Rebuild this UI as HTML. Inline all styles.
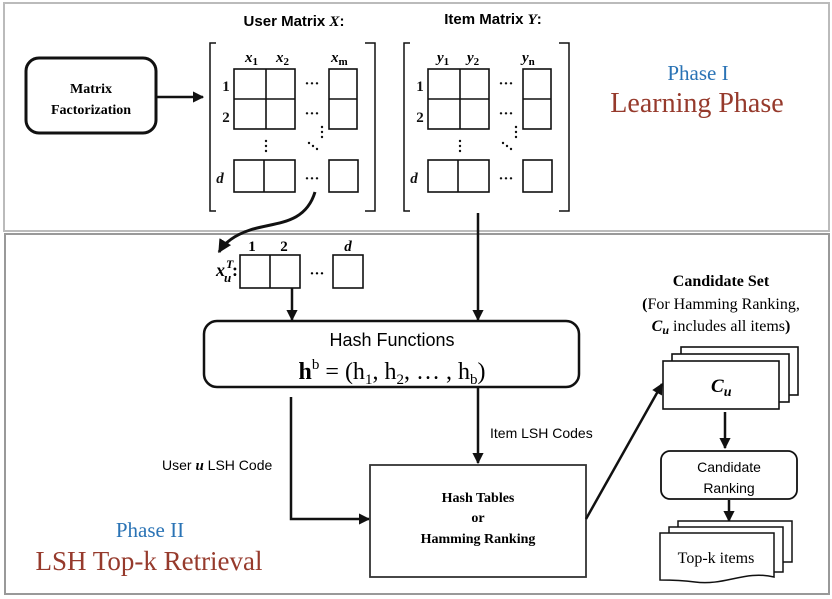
<!DOCTYPE html>
<html><head><meta charset="utf-8"><style>
html,body{margin:0;padding:0;background:#fff}
svg{display:block}
text{font-family:"Liberation Serif",serif}
.s{font-family:"Liberation Sans",sans-serif}
</style></head><body>
<svg width="832" height="599" viewBox="0 0 832 599" xmlns="http://www.w3.org/2000/svg">
<defs>
<marker id="a" viewBox="0 0 10 10" refX="9" refY="5" markerWidth="4.5" markerHeight="4.5" orient="auto" markerUnits="strokeWidth"><path d="M0,0L10,5L0,10z" fill="#111"/></marker>
<g id="mat" fill="none" stroke="#111" stroke-width="1.6">
 <path d="M216,43H210V211H216" stroke-width="1.5"/>
 <path d="M365,43H375V211H365" stroke-width="1.5"/>
 <rect x="234" y="69" width="61" height="60"/><line x1="266" y1="69" x2="266" y2="129"/><line x1="234" y1="99" x2="295" y2="99"/>
 <rect x="329" y="69" width="28" height="60"/><line x1="329" y1="99" x2="357" y2="99"/>
 <rect x="234" y="160" width="61" height="32"/><line x1="264" y1="160" x2="264" y2="192"/>
 <rect x="329" y="160" width="29" height="32"/>
 <g fill="#111" stroke="none" font-family="Liberation Serif" font-weight="bold" font-size="15">
  <text x="226" y="91" text-anchor="middle">1</text>
  <text x="226" y="122" text-anchor="middle">2</text>
  <text x="220" y="183" text-anchor="middle" font-style="italic">d</text>
  <text x="312" y="88" text-anchor="middle">···</text>
  <text x="312" y="118" text-anchor="middle">···</text>
  <text x="312" y="183" text-anchor="middle">···</text>
  <circle cx="266" cy="141" r="1.2"/><circle cx="266" cy="146" r="1.2"/><circle cx="266" cy="151" r="1.2"/>
  <circle cx="322" cy="127" r="1.2"/><circle cx="322" cy="132" r="1.2"/><circle cx="322" cy="137" r="1.2"/>
  <circle cx="309" cy="143" r="1.2"/><circle cx="313" cy="146" r="1.2"/><circle cx="317" cy="149" r="1.2"/>
 </g>
</g>
</defs>
<rect x="4" y="3" width="825" height="228" fill="none" stroke="#bbb" stroke-width="2"/>
<rect x="5" y="234" width="824" height="360" fill="none" stroke="#999" stroke-width="2"/>

<rect x="26" y="58" width="130" height="75" rx="13" fill="none" stroke="#111" stroke-width="3"/>
<text x="91" y="93" text-anchor="middle" font-weight="bold" font-size="14">Matrix</text>
<text x="91" y="114" text-anchor="middle" font-weight="bold" font-size="14">Factorization</text>
<line x1="156" y1="97" x2="203" y2="97" stroke="#111" stroke-width="2.5" marker-end="url(#a)"/>

<text x="294" y="26" text-anchor="middle" class="s" font-weight="bold" font-size="15">User Matrix <tspan font-family="Liberation Serif" font-style="italic">X</tspan>:</text>
<use href="#mat"/>
<g font-weight="bold" font-style="italic" font-size="15">
<text x="245" y="62">x<tspan font-style="normal" font-size="11" dy="3">1</tspan></text>
<text x="276" y="62">x<tspan font-style="normal" font-size="11" dy="3">2</tspan></text>
<text x="331" y="62">x<tspan font-style="normal" font-size="11" dy="3">m</tspan></text>
</g>

<text x="493" y="24" text-anchor="middle" class="s" font-weight="bold" font-size="15">Item Matrix <tspan font-family="Liberation Serif" font-style="italic">Y</tspan>:</text>
<use href="#mat" transform="translate(194,0)"/>
<g font-weight="bold" font-style="italic" font-size="15">
<text x="437" y="62">y<tspan font-style="normal" font-size="11" dy="3">1</tspan></text>
<text x="467" y="62">y<tspan font-style="normal" font-size="11" dy="3">2</tspan></text>
<text x="522" y="62">y<tspan font-style="normal" font-size="11" dy="3">n</tspan></text>
</g>

<text x="698" y="80" text-anchor="middle" font-size="21" fill="#2a73b5">Phase I</text>
<text x="697" y="112" text-anchor="middle" font-size="28" fill="#963a2c">Learning Phase</text>

<path d="M315,192 C305,225 275,222 250,230 C235,235 225,242 219,252" fill="none" stroke="#111" stroke-width="3" marker-end="url(#a)"/>

<text x="216" y="276" font-weight="bold" font-style="italic" font-size="18">x</text>
<text x="226" y="268" font-weight="bold" font-style="italic" font-size="12">T</text>
<text x="224" y="282" font-weight="bold" font-style="italic" font-size="13">u</text>
<text x="232" y="276" font-weight="bold" font-size="18">:</text>
<g fill="none" stroke="#111" stroke-width="1.6">
<rect x="240" y="255" width="60" height="33"/><line x1="270" y1="255" x2="270" y2="288"/>
<rect x="333" y="255" width="30" height="33"/>
</g>
<text x="252" y="251" text-anchor="middle" font-weight="bold" font-size="15">1</text>
<text x="284" y="251" text-anchor="middle" font-weight="bold" font-size="15">2</text>
<text x="348" y="251" text-anchor="middle" font-weight="bold" font-style="italic" font-size="15">d</text>
<text x="317" y="278" text-anchor="middle" font-weight="bold" font-size="15">···</text>

<line x1="292" y1="288" x2="292" y2="320" stroke="#111" stroke-width="2.5" marker-end="url(#a)"/>
<line x1="478" y1="213" x2="478" y2="320" stroke="#111" stroke-width="2.5" marker-end="url(#a)"/>

<rect x="204" y="321" width="375" height="66" rx="13" fill="none" stroke="#111" stroke-width="2.5"/>
<text x="392" y="346" text-anchor="middle" class="s" font-size="18">Hash Functions</text>
<text x="392" y="379" text-anchor="middle" font-size="24"><tspan font-weight="bold">h</tspan><tspan font-size="15" dy="-10">b</tspan><tspan dy="10"> = (h</tspan><tspan font-size="15" dy="5">1</tspan><tspan dy="-5">, h</tspan><tspan font-size="15" dy="5">2</tspan><tspan dy="-5">, … , h</tspan><tspan font-size="15" dy="5">b</tspan><tspan dy="-5">)</tspan></text>

<line x1="478" y1="387" x2="478" y2="463" stroke="#111" stroke-width="2.5" marker-end="url(#a)"/>
<text x="490" y="438" class="s" font-size="14">Item LSH Codes</text>
<polyline points="291,397 291,519 369,519" fill="none" stroke="#111" stroke-width="2.5" marker-end="url(#a)"/>
<text x="162" y="470" class="s" font-size="14">User <tspan font-family="Liberation Serif" font-weight="bold" font-style="italic" font-size="15">u</tspan> LSH Code</text>

<rect x="370" y="465" width="216" height="112" fill="none" stroke="#333" stroke-width="1.8"/>
<text x="478" y="502" text-anchor="middle" font-weight="bold" font-size="14">Hash Tables</text>
<text x="478" y="522" text-anchor="middle" font-weight="bold" font-size="14">or</text>
<text x="478" y="543" text-anchor="middle" font-weight="bold" font-size="14">Hamming Ranking</text>

<line x1="586" y1="519" x2="662" y2="384" stroke="#111" stroke-width="2.5" marker-end="url(#a)"/>

<text x="721" y="286" text-anchor="middle" font-weight="bold" font-size="16">Candidate Set</text>
<text x="721" y="309" text-anchor="middle" font-size="16"><tspan font-weight="bold">(</tspan>For Hamming Ranking,</text>
<text x="721" y="331" text-anchor="middle" font-size="16"><tspan font-weight="bold" font-style="italic">C<tspan font-size="12" dy="3">u</tspan></tspan><tspan dy="-3"> includes all items</tspan><tspan font-weight="bold">)</tspan></text>

<g fill="#fff" stroke="#111" stroke-width="1.6">
<rect x="681" y="347" width="117" height="48"/>
<rect x="672" y="354" width="117" height="48"/>
<rect x="663" y="361" width="116" height="48"/>
</g>
<text x="711" y="392" font-weight="bold" font-style="italic" font-size="19">C<tspan font-size="14" dy="4">u</tspan></text>

<line x1="725" y1="412" x2="725" y2="448" stroke="#111" stroke-width="2.5" marker-end="url(#a)"/>
<rect x="661" y="451" width="136" height="48" rx="9" fill="none" stroke="#111" stroke-width="1.8"/>
<text x="729" y="472" text-anchor="middle" class="s" font-size="14">Candidate</text>
<text x="729" y="493" text-anchor="middle" class="s" font-size="14">Ranking</text>
<line x1="729" y1="500" x2="729" y2="521" stroke="#111" stroke-width="2.5" marker-end="url(#a)"/>

<g fill="#fff" stroke="#111" stroke-width="1.5">
<path d="M678,521H792V562H678z"/>
<path d="M669,527H783V572H669z"/>
<path d="M660,533H774V577C745,570 725,586 695,582C680,580 670,580 660,580z"/>
</g>
<text x="716" y="563" text-anchor="middle" font-size="16">Top-k items</text>

<text x="150" y="537" text-anchor="middle" font-size="21" fill="#2a73b5">Phase II</text>
<text x="149" y="570" text-anchor="middle" font-size="27" fill="#963a2c">LSH Top-k Retrieval</text>
</svg>
</body></html>
